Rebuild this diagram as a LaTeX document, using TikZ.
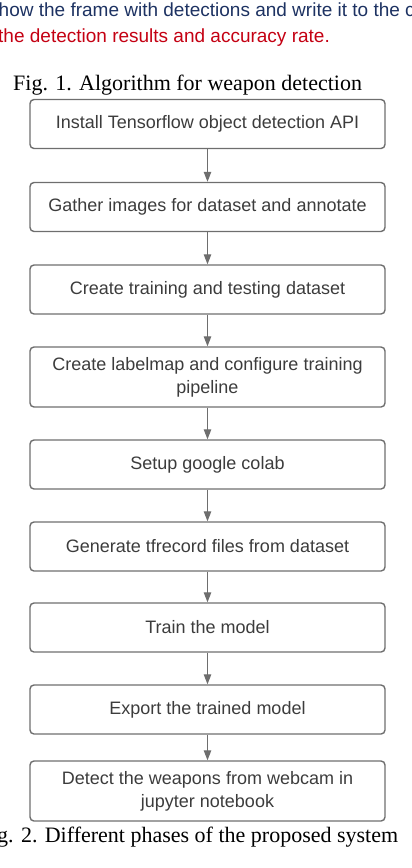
\documentclass[tikz,border=0pt]{standalone}
\usepackage{fontspec}
\setmainfont{Liberation Serif}
\setsansfont{Liberation Sans}
\usetikzlibrary{positioning,arrows.meta}
\definecolor{bordegris}{HTML}{6E6E6E}
\definecolor{textogris}{HTML}{3C3C3C}
\definecolor{azuloscuro}{HTML}{1D3262}
\definecolor{rojotexto}{HTML}{C40012}
\tikzset{
  paso/.style={draw=bordegris, line width=1.4pt, rounded corners=4pt,
    minimum width=355pt, minimum height=49pt, inner sep=0pt,
    align=center, text=textogris, font=\sffamily\fontsize{18}{23}\selectfont},
  flecha/.style={draw=bordegris, line width=1.1pt, -{Triangle[length=10pt,width=7.5pt]}},
  leyenda/.style={anchor=base west, inner sep=0pt, font=\fontsize{22}{26}\selectfont},
}
\begin{document}
\begin{tikzpicture}[x=1pt,y=-1pt]
  \useasboundingbox (0,0) rectangle (412,868);
  \clip (0,0) rectangle (412,868);
  % Texto cortado arriba
  \node[anchor=base west, inner sep=0pt, text=azuloscuro, font=\sffamily\fontsize{19}{22}\selectfont]
    (arriba1) at (-1.5,16) {how the frame with detections and write it to the c};
  \node[anchor=base west, inner sep=0pt, text=rojotexto, font=\sffamily\fontsize{19}{22}\selectfont]
    (arriba2) at (-2,42.5) {the detection results and accuracy rate.};
  \node[leyenda] (fig1) at (13,90.5) {Fig. 1. Algorithm for weapon detection};
  % Pasos
  \node[paso] (s1) at (207.5,124) {Install Tensorflow object detection API};
  \node[paso] (s2) at (207.5,207) {Gather images for dataset and annotate};
  \node[paso] (s3) at (207.5,289.5) {Create training and testing dataset};
  \node[paso, minimum height=60pt] (s4) at (207.5,377) {Create labelmap and configure training\\pipeline};
  \node[paso] (s5) at (207.5,464.5) {Setup google colab};
  \node[paso] (s6) at (207.5,546.5) {Generate tfrecord files from dataset};
  \node[paso] (s7) at (207.5,627.5) {Train the model};
  \node[paso] (s8) at (207.5,709.5) {Export the trained model};
  \node[paso, minimum height=60pt] (s9) at (207.5,791) {Detect the weapons from webcam in\\jupyter notebook};
  % Flechas
  \foreach \a/\b in {s1/s2,s2/s3,s3/s4,s4/s5,s5/s6,s6/s7,s7/s8,s8/s9}
    \draw[flecha] (\a) -- (\b);
  \node[leyenda] (fig2) at (-3,842) {g. 2. Different phases of the proposed system};
\end{tikzpicture}
\end{document}
